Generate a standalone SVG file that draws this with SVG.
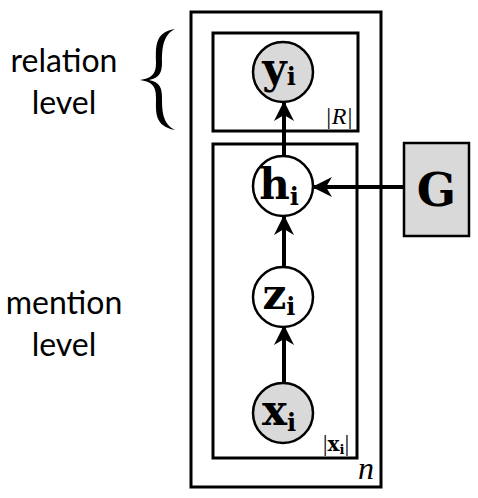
<svg xmlns="http://www.w3.org/2000/svg" width="478" height="498" viewBox="0 0 478 498">
<style>
.plate{fill:none;stroke:#000;stroke-width:3}
.obs{fill:#d9d9d9;stroke:#000;stroke-width:2.5}
.lat{fill:#fff;stroke:#000;stroke-width:2.5}
.edge{stroke:#000;stroke-width:4;fill:none;marker-end:url(#ah)}
.lbl{font-family:"Lato","Open Sans",sans-serif;font-size:32px;fill:#000;text-anchor:middle}
.m{font-family:"DejaVu Serif","Liberation Serif",serif;font-weight:bold;fill:#000;text-anchor:middle}
.mi{font-family:"Liberation Serif","DejaVu Serif",serif;font-style:italic;fill:#000}
</style>
<defs>
<marker id="ah" viewBox="0 0 10 10" refX="9" refY="5" markerWidth="5" markerHeight="5.5" orient="auto" markerUnits="strokeWidth">
<path d="M0,0 L10,5 L0,10 L3,5 z" fill="#000"/>
</marker>
</defs>
<rect width="478" height="498" fill="#fff"/>
<g id="plate-n"><rect class="plate" x="191" y="12" width="190" height="475"/><text class="mi" x="358" y="479" font-size="32">n</text></g>
<g id="plate-R"><rect class="plate" x="213" y="33" width="145" height="98"/><text class="mi" x="339" y="124" font-size="24" text-anchor="middle">|R|</text></g>
<g id="plate-x"><rect class="plate" x="213" y="144" width="144" height="314"/><text x="336" y="451" font-size="24" text-anchor="middle" font-family="Liberation Serif,serif" fill="#000">|<tspan font-family="DejaVu Serif,serif" font-weight="bold" font-size="20">x</tspan><tspan font-family="DejaVu Serif,serif" font-weight="bold" font-size="13" dy="3">i</tspan><tspan dy="-3">|</tspan></text></g>
<g id="conn">
<line class="edge" x1="284" y1="384" x2="284" y2="327"/>
<line class="edge" x1="284" y1="268" x2="284" y2="217"/>
<line class="edge" x1="284" y1="158" x2="284" y2="103"/>
<line class="edge" x1="404" y1="187" x2="314" y2="187"/>
</g>
<g id="node-y"><circle class="obs" cx="283" cy="72" r="30"/><text class="m" x="279" y="83" font-size="42">y<tspan font-size="24" dy="2">i</tspan></text></g>
<g id="node-h"><circle class="lat" cx="283" cy="186" r="30"/><text class="m" x="279" y="199" font-size="42">h<tspan font-size="24" dy="6">i</tspan></text></g>
<g id="node-z"><circle class="lat" cx="283" cy="297" r="30"/><text class="m" x="279" y="309" font-size="42">z<tspan font-size="24" dy="6">i</tspan></text></g>
<g id="node-x"><circle class="obs" cx="283" cy="413" r="30"/><text class="m" x="279" y="425" font-size="42">x<tspan font-size="24" dy="6">i</tspan></text></g>
<g id="node-G"><rect x="404" y="143" width="65" height="93" fill="#d9d9d9" stroke="#000" stroke-width="2.5"/><text class="m" x="436.5" y="206" font-size="46">G</text></g>
<g id="labels">
<text class="lbl" x="64" y="72">relation</text>
<text class="lbl" x="64" y="114">level</text>
<text class="lbl" x="64" y="314">mention</text>
<text class="lbl" x="64" y="356">level</text>
<path d="M175,29 C154,32 156,48 156,62 C156,72 154,78 140,80 C154,82 156,88 156,98 C156,112 154,126 175,130 C163,124 162,112 162,98 C162,88 160,82 149,80 C160,78 162,72 162,62 C162,48 163,35 175,29 z" fill="#000"/>
</g>
</svg>
